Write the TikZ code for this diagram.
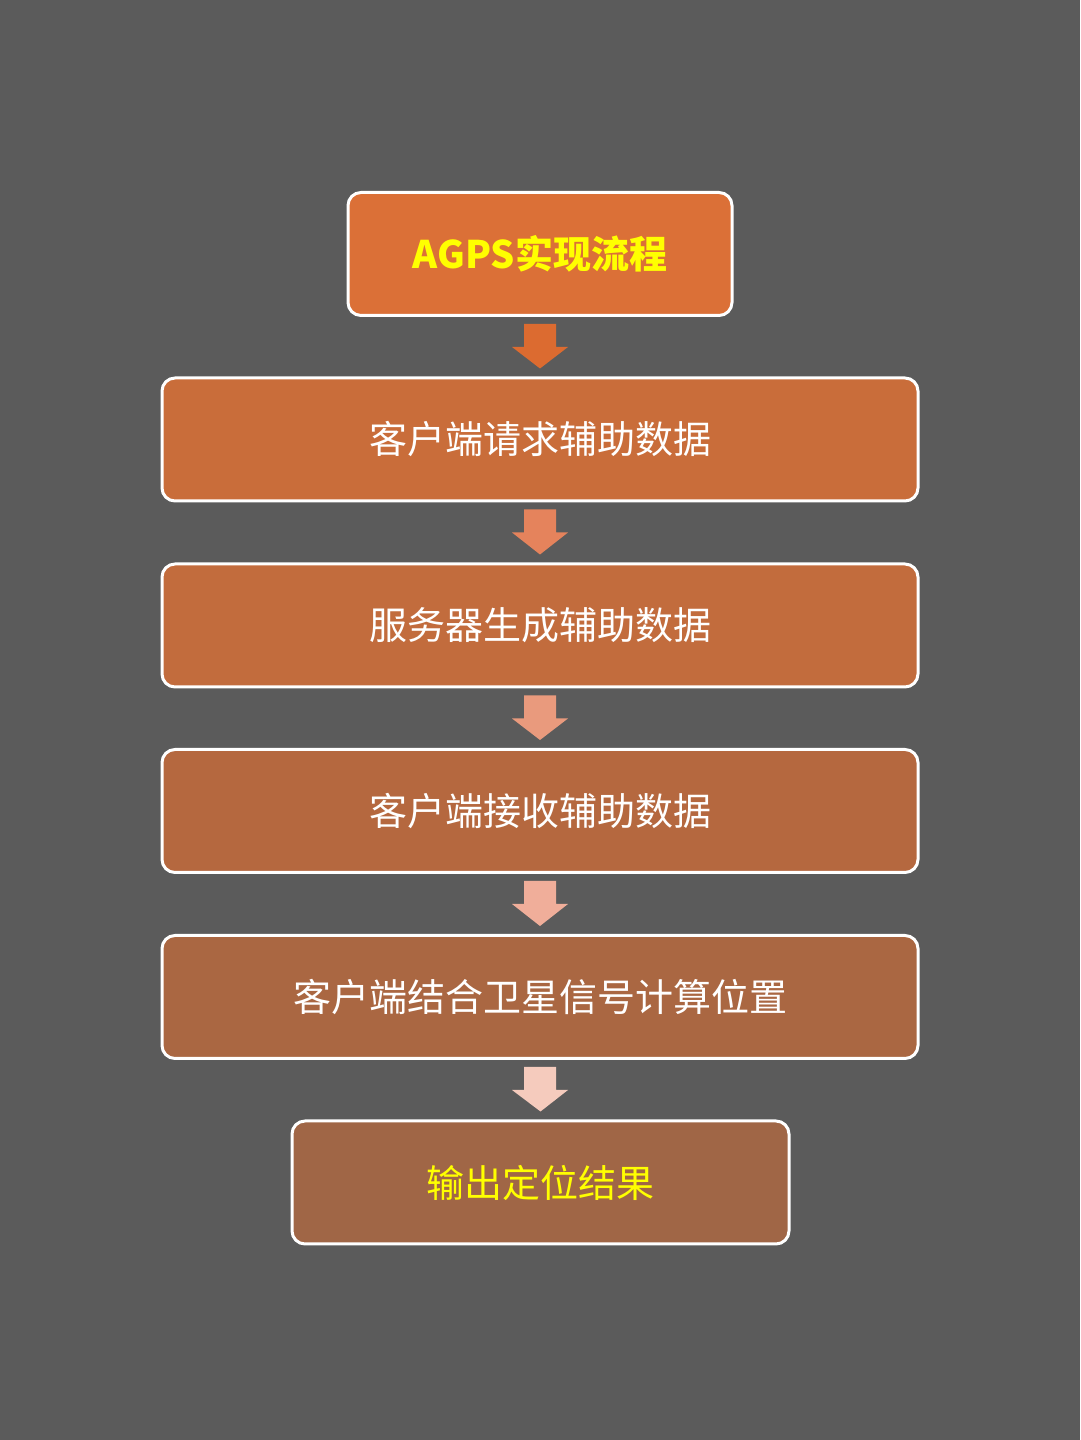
\documentclass[tikz,border=0pt]{standalone}
\usepackage{fontspec}
\newfontfamily\cjk{Noto Sans CJK SC}
\usetikzlibrary{calc}
\definecolor{bg}{HTML}{5B5B5B}
\definecolor{ylw}{HTML}{FFFF00}
\definecolor{f0}{RGB}{219,112,55}
\definecolor{f1}{RGB}{201,109,58}
\definecolor{f2}{RGB}{194,108,61}
\definecolor{f3}{RGB}{181,104,63}
\definecolor{f4}{RGB}{170,103,66}
\definecolor{f5}{RGB}{160,102,70}
\definecolor{a1}{RGB}{220,107,48}
\definecolor{a2}{RGB}{229,131,92}
\definecolor{a3}{RGB}{233,154,125}
\definecolor{a4}{RGB}{240,174,154}
\definecolor{a5}{RGB}{245,203,189}
\tikzset{
  box/.style={draw=white, line width=3pt, rounded corners=13pt, minimum height=123pt, inner sep=0pt, font=\cjk\fontsize{38}{44}\selectfont, text=white},
}
\newcommand{\blockarrow}[3]{%
  \fill[#3] ($(#1.south)+(-16,-7)$) -- ($(#1.south)+(16,-7)$) -- ($(#1.south)+(16,-30)$) -- ($(#1.south)+(28,-30)$) -- ($(#2.north)+(0,8)$) -- ($(#1.south)+(-28,-30)$) -- ($(#1.south)+(-16,-30)$) -- cycle;}
\begin{document}
\begin{tikzpicture}[x=1pt,y=1pt]
\fill[bg] (0,0) rectangle (1080,1440);
\useasboundingbox (0,0) rectangle (1080,1440);
\node[box, fill=f0, minimum width=384pt, text=ylw, font=\cjk\bfseries\fontsize{38}{44}\selectfont] (t) at (540,1186) {AGPS实现流程};
\node[box, fill=f1, minimum width=756pt] (b1) at (540,1000.5) {客户端请求辅助数据};
\node[box, fill=f2, minimum width=756pt] (b2) at (540,814.5) {服务器生成辅助数据};
\node[box, fill=f3, minimum width=756pt] (b3) at (540,629) {客户端接收辅助数据};
\node[box, fill=f4, minimum width=756pt] (b4) at (540,443) {客户端结合卫星信号计算位置};
\node[box, fill=f5, minimum width=497pt, text=ylw] (b5) at (540.5,257.5) {输出定位结果};
\blockarrow{t}{b1}{a1}
\blockarrow{b1}{b2}{a2}
\blockarrow{b2}{b3}{a3}
\blockarrow{b3}{b4}{a4}
\blockarrow{b4}{b5}{a5}
\end{tikzpicture}
\end{document}
